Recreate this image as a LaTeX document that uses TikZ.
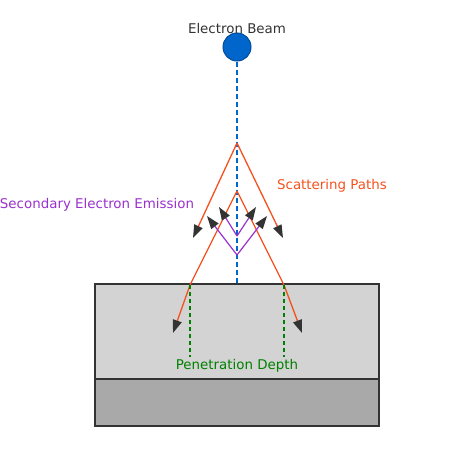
\documentclass[tikz,border=0pt]{standalone}
\usepackage{fontspec}
\setmainfont{DejaVu Sans}
\usetikzlibrary{arrows.meta}
\definecolor{beamblue}{HTML}{0066CC}
\definecolor{beamedge}{HTML}{004C99}
\definecolor{scat}{HTML}{F4511E}
\definecolor{emit}{HTML}{9932CC}
\definecolor{pen}{HTML}{008000}
\definecolor{txt}{HTML}{333333}
\definecolor{layerA}{HTML}{D3D3D3}
\definecolor{layerB}{HTML}{A9A9A9}
\tikzset{
  lbl/.style={font=\fontsize{13.4}{15}\selectfont, inner sep=0pt},
  tip/.style={arrows={-{Triangle[length=13pt,width=9pt,fill=txt,color=txt]}}},
  scatline/.style={draw=scat, line width=1.3pt},
  emitline/.style={draw=emit, line width=1.2pt},
  beamline/.style={draw=beamblue, line width=1.8pt, dash pattern=on 5pt off 3pt},
  penline/.style={draw=pen, line width=1.8pt, dash pattern=on 4pt off 3pt},
  layer/.style={draw=txt, line width=1.7pt, outer sep=0pt, inner sep=0pt},
}
\begin{document}
\begin{tikzpicture}[x=1pt,y=-1pt]
\useasboundingbox (0,0) rectangle (474,474);
% substrate
\node[layer, fill=layerA, minimum width=284pt, minimum height=95pt, anchor=north west] (top) at (95,284) {};
\node[layer, fill=layerB, minimum width=284pt, minimum height=47pt, anchor=north west] (bot) at (95,379) {};
% beam
\node[circle, fill=beamblue, draw=beamedge, line width=1pt, minimum size=28pt, inner sep=0pt] (beam) at (237,47) {};
\node[lbl, text=txt] (beamlbl) at (237,29) {Electron Beam};
\coordinate (surf) at (237,284);
\draw[beamline] (beam.south) -- (surf);
% scattering points
\coordinate (s1) at (237,143);
\coordinate (s2) at (237,191);
\coordinate (o1l) at (193,238);
\coordinate (o1r) at (283,238);
\coordinate (e2l) at (190,285);
\coordinate (e2r) at (284,285);
\coordinate (t2l) at (173,333);
\coordinate (t2r) at (302,333);
\draw[scatline, tip] (s1) -- (o1l);
\draw[scatline, tip] (s1) -- (o1r);
\draw[scatline, tip] (s2) -- (e2l) -- (t2l);
\draw[scatline, tip] (s2) -- (e2r) -- (t2r);
% secondary emission
\coordinate (v1) at (237,236);
\coordinate (v2) at (237,255);
\coordinate (a1l) at (219,207);
\coordinate (a1r) at (256,207);
\coordinate (a2l) at (207,216);
\coordinate (a2r) at (267,216);
\draw[emitline, tip] (v1) -- (a1l);
\draw[emitline, tip] (v1) -- (a1r);
\draw[emitline, tip] (v2) -- (a2l);
\draw[emitline, tip] (v2) -- (a2r);
% penetration depth
\coordinate (p1b) at (190,357);
\coordinate (p2b) at (284,357);
\draw[penline] (e2l) -- (p1b);
\draw[penline] (e2r) -- (p2b);
% labels
\node[lbl, text=pen] (penlbl) at (237,366) {Penetration Depth};
\node[lbl, text=scat] (scatlbl) at (332,186) {Scattering Paths};
\node[lbl, text=emit] (emitlbl) at (97,205) {Secondary Electron Emission};
\end{tikzpicture}
\end{document}
